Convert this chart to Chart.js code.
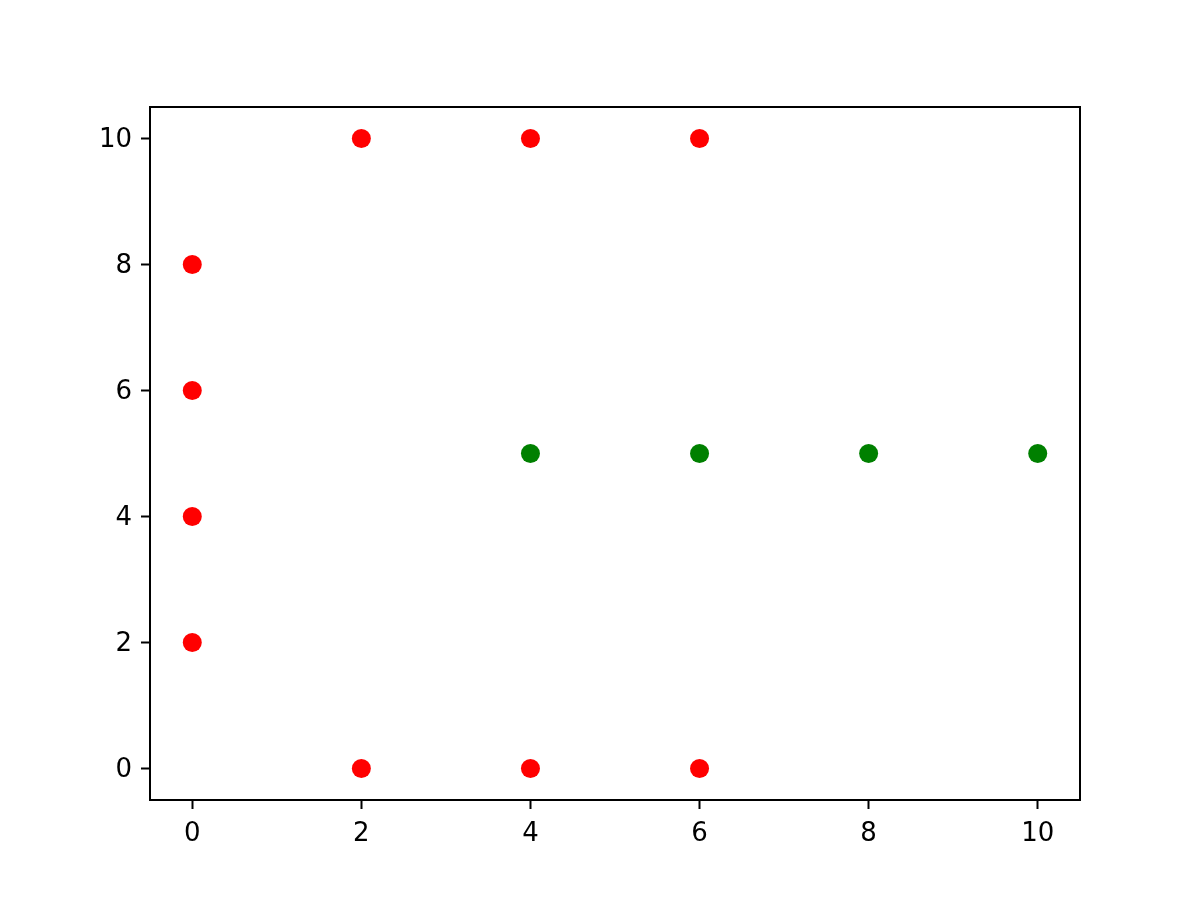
<!DOCTYPE html>
<html>
<head>
<meta charset="utf-8">
<script src="https://cdn.jsdelivr.net/npm/chart.js@4/dist/chart.umd.min.js"></script>
<style>
  html, body { margin: 0; padding: 0; background: #fff; }
  #c { display: block; }
</style>
</head>
<body>
<canvas id="c" width="1200" height="900"></canvas>
<script>
// points
const redX = [0, 0, 0, 0, 2, 4, 6, 2, 4, 6];
const redY = [2, 4, 6, 8, 10, 10, 10, 0, 0, 0];
const greenX = [4, 6, 8, 10];
const greenY = [5, 5, 5, 5];
const xTicks = [0, 2, 4, 6, 8, 10];
const yTicks = [0, 2, 4, 6, 8, 10];

const toPts = (xs, ys) => xs.map((x, i) => ({ x, y: ys[i] }));

// frame round the plot area, like the matplotlib spines
const framePlugin = {
  id: 'frame',
  afterDraw(chart) {
    const { ctx, chartArea: a } = chart;
    ctx.save();
    ctx.strokeStyle = '#000';
    ctx.lineWidth = 2;
    ctx.strokeRect(a.left, a.top, a.right - a.left, a.bottom - a.top);
    ctx.restore();
  }
};

function axis(ticks, fitKey, fitVal, pad, shift) {
  return {
    min: -0.5,
    max: 10.5,
    afterBuildTicks: s => { s.ticks = ticks.map(v => ({ value: v })); },
    afterFit: s => { s[fitKey] = fitVal; },
    grid: { drawOnChartArea: false, drawTicks: true, tickLength: 9, tickColor: '#000', tickWidth: 2 },
    border: { display: false },
    ticks: { color: '#000', padding: pad, labelOffset: shift, font: { family: 'DejaVu Sans', size: 26 } }
  };
}

new Chart(document.getElementById('c'), {
  type: 'scatter',
  data: {
    datasets: [
      { data: toPts(redX, redY), backgroundColor: '#ff0000', pointRadius: 9.5, pointBorderWidth: 0 },
      { data: toPts(greenX, greenY), backgroundColor: '#008000', pointRadius: 9.5, pointBorderWidth: 0 }
    ]
  },
  options: {
    responsive: false,
    animation: false,
    layout: { padding: { left: 0, top: 107, right: 120, bottom: 0 } },
    plugins: { legend: { display: false }, tooltip: { enabled: false } },
    scales: {
      x: axis(xTicks, 'height', 100, 10, 0),
      y: axis(yTicks, 'width', 150, 9, 2)
    }
  },
  plugins: [framePlugin]
});
</script>
</body>
</html>
